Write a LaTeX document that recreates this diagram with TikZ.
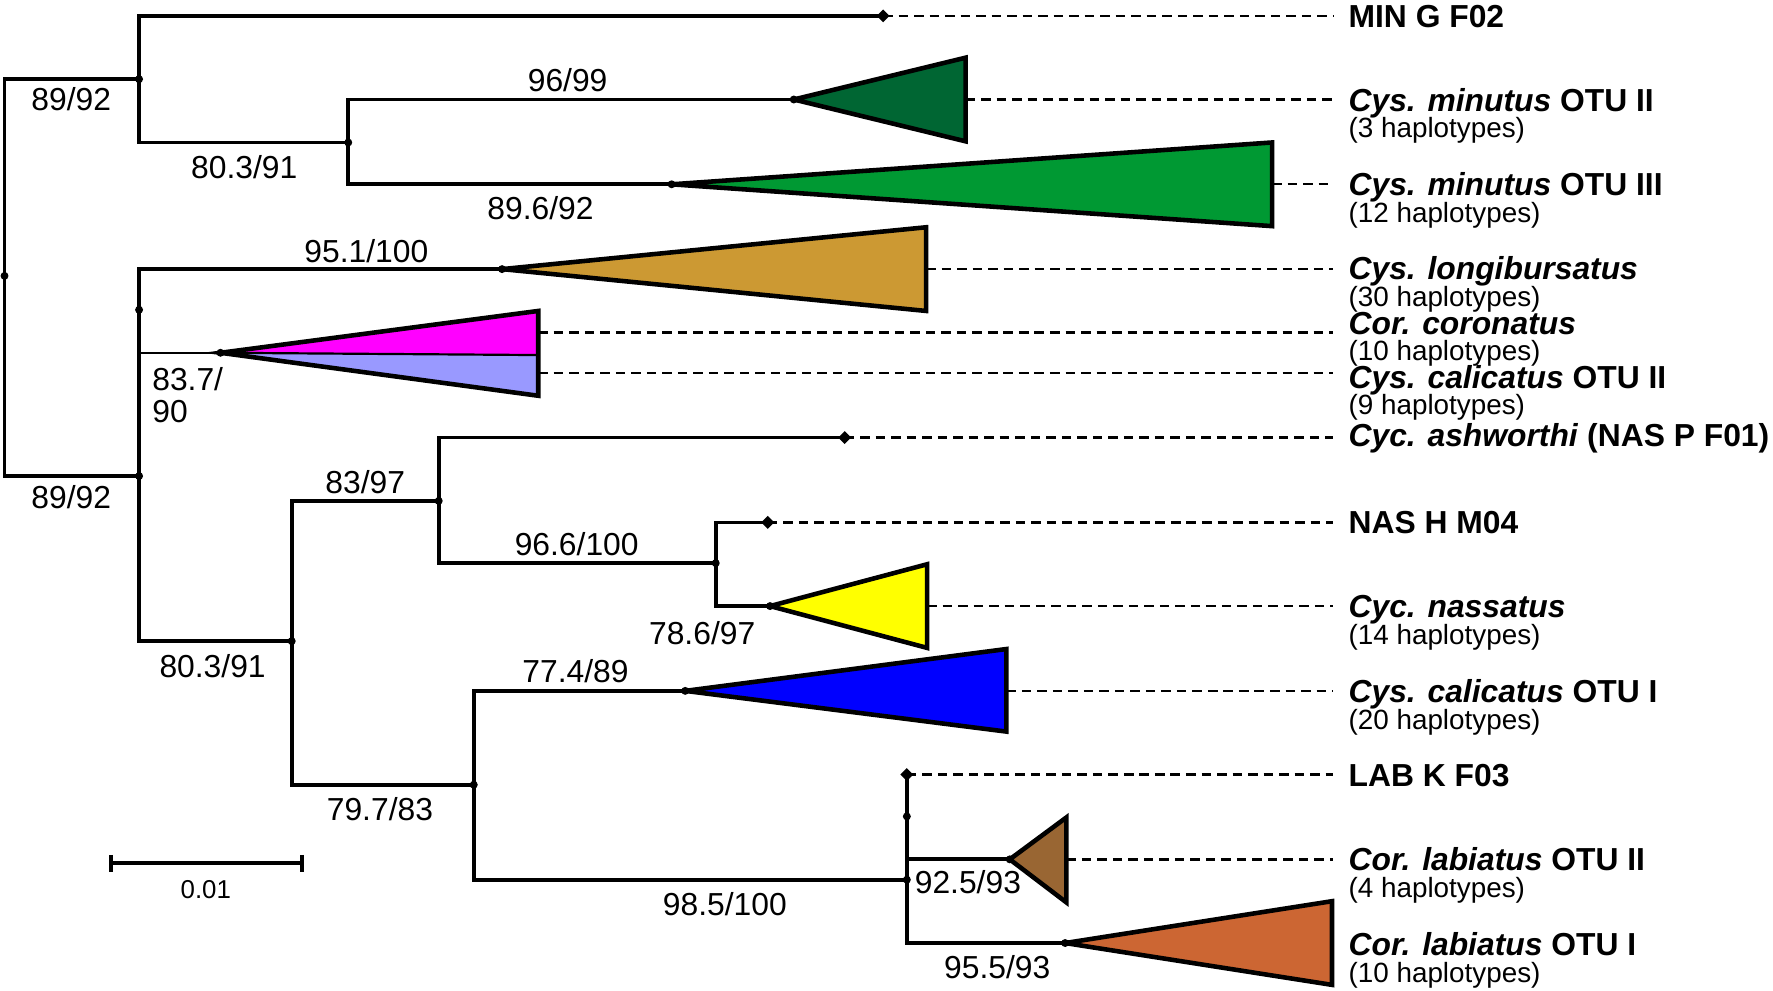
\documentclass[tikz,border=0pt]{standalone}
\usepackage{fontspec}
\setmainfont{Liberation Sans}
\usetikzlibrary{shapes.geometric}
\definecolor{cDkGreen}{HTML}{006633}
\definecolor{cGreen}{HTML}{009933}
\definecolor{cGold}{HTML}{CC9933}
\definecolor{cMagenta}{HTML}{FF00FF}
\definecolor{cLav}{HTML}{9999FF}
\definecolor{cYellow}{HTML}{FFFF00}
\definecolor{cBlue}{HTML}{0000FF}
\definecolor{cBrown}{HTML}{996633}
\definecolor{cOrange}{HTML}{CC6633}
\begin{document}
\begin{tikzpicture}[x=0.01cm,y=-0.01cm,
  br/.style={line width=0.95pt},
  thinbr/.style={line width=0.55pt},
  tri/.style={draw=black,line width=1.15pt,line join=miter},
  dsh/.style={line width=0.6pt,dash pattern=on 2.4pt off 1.5pt},
  sup/.style={font=\fontsize{8}{9}\selectfont,anchor=base,inner sep=0pt},
  tiplbl/.style={font=\fontsize{8}{9}\selectfont\bfseries,anchor=base west,inner sep=0pt},
  hap/.style={font=\fontsize{7}{8}\selectfont,anchor=base west,inner sep=0pt},
  tipmark/.style={diamond,fill=black,inner sep=0pt,minimum size=3.4pt},
  ndot/.style={circle,fill=black,inner sep=0pt,minimum size=2pt}]
\useasboundingbox (0,0) rectangle (1568,876);
% node coordinates
\coordinate (root) at (4,244);
\coordinate (nA) at (123,70);
\coordinate (tMIN) at (781,14);
\coordinate (nB) at (308,126);
\coordinate (aMinII) at (702,88);
\coordinate (aMinIII) at (594,163);
\coordinate (nC) at (123,421);
\coordinate (nCa) at (123,274);
\coordinate (aLongi) at (444,238);
\coordinate (aCor) at (195,312);
\coordinate (nD) at (258,567);
\coordinate (nE) at (388,443);
\coordinate (tAsh) at (747,387);
\coordinate (nF) at (633,498);
\coordinate (tNAS) at (679,462);
\coordinate (aNass) at (681,536);
\coordinate (nG) at (419,694);
\coordinate (aCalI) at (606,611);
\coordinate (nH) at (802,778);
\coordinate (nHa) at (802,722);
\coordinate (tLAB) at (802,685);
\coordinate (aLabII) at (893,760);
\coordinate (aLabI) at (942,834);
% branches
\draw[br] (root) |- (nA);
\draw[br] (root) |- (nC);
\draw[br] (nA) |- (tMIN);
\draw[br] (nA) |- (nB);
\draw[br] (nB) |- (aMinII);
\draw[br] (nB) |- (aMinIII);
\draw[br] (nC) |- (aLongi);
\draw[br] (nC) |- (nD);
\draw[thinbr] (nCa) |- (aCor);
\draw[br] (nD) |- (nE);
\draw[br] (nD) |- (nG);
\draw[br] (nE) |- (tAsh);
\draw[br] (nE) |- (nF);
\draw[br] (nF) |- (tNAS);
\draw[br] (nF) |- (aNass);
\draw[br] (nG) |- (aCalI);
\draw[br] (nG) |- (nH);
\draw[br] (nH) -- (nHa);
\draw[br] (nHa) -- (tLAB);
\draw[br] (nHa) |- (aLabII);
\draw[br] (nH) |- (aLabI);
% collapsed clades
\coordinate (rMinII) at (854,88);
\coordinate (rMinIII) at (1125,163);
\coordinate (rLongi) at (819,238);
\coordinate (rCor) at (476,294);
\coordinate (rCalII) at (476,330);
\coordinate (rNass) at (820,536);
\coordinate (rCalI) at (890,611);
\coordinate (rLabII) at (943,760);
\filldraw[tri,fill=cDkGreen] (aMinII) -- (854,51) -- (854,125) -- cycle;
\filldraw[tri,fill=cGreen] (aMinIII) -- (1125,126) -- (1125,200) -- cycle;
\filldraw[tri,fill=cGold] (aLongi) -- (819,201) -- (819,275) -- cycle;
\fill[cMagenta] (aCor) -- (476,275) -- (476,314) -- cycle;
\fill[cLav] (aCor) -- (476,314) -- (476,350) -- cycle;
\draw[line width=0.55pt] (aCor) -- (476,314);
\draw[tri] (aCor) -- (476,275) -- (476,350) -- cycle;
\filldraw[tri,fill=cYellow] (aNass) -- (820,499) -- (820,573) -- cycle;
\filldraw[tri,fill=cBlue] (aCalI) -- (890,574) -- (890,647) -- cycle;
\filldraw[tri,fill=cBrown] (aLabII) -- (943,723) -- (943,798) -- cycle;
\filldraw[tri,fill=cOrange] (aLabI) -- (1178,797) -- (1178,871) -- cycle;
% dashed leaders
\coordinate (eMIN) at (1179,14);
\coordinate (eMinII) at (1179,88);
\coordinate (eMinIII) at (1179,163);
\coordinate (eLongi) at (1179,238);
\coordinate (eCor) at (1179,294);
\coordinate (eCalII) at (1179,330);
\coordinate (eAsh) at (1179,387);
\coordinate (eNAS) at (1179,462);
\coordinate (eNass) at (1179,536);
\coordinate (eCalI) at (1179,611);
\coordinate (eLAB) at (1179,685);
\coordinate (eLabII) at (1179,760);
\draw[dsh] (tMIN) -- (eMIN);
\draw[dsh] (rMinII) -- (eMinII);
\draw[dsh] (rMinIII) -- (eMinIII);
\draw[dsh] (rLongi) -- (eLongi);
\draw[dsh] (rCor) -- (eCor);
\draw[dsh] (rCalII) -- (eCalII);
\draw[dsh] (tAsh) -- (eAsh);
\draw[dsh] (tNAS) -- (eNAS);
\draw[dsh] (rNass) -- (eNass);
\draw[dsh] (rCalI) -- (eCalI);
\draw[dsh] (tLAB) -- (eLAB);
\draw[dsh] (rLabII) -- (eLabII);
% node dots
\foreach \p in {root,nA,nB,nC,nCa,nD,nE,nF,nG,nH,nHa,aMinII,aMinIII,aLongi,aCor,aNass,aCalI,aLabII,aLabI}
  \node[ndot] at (\p) {};
\foreach \p in {tMIN,tAsh,tNAS,tLAB}
  \node[tipmark] at (\p) {};
% support values
\node[sup] (s1) at (63,98) {89/92};
\node[sup] (s2) at (216,158) {80.3/91};
\node[sup] (s3) at (502,81) {96/99};
\node[sup] (s4) at (478,194) {89.6/92};
\node[sup] (s5) at (324,232) {95.1/100};
\node[sup,anchor=base west] (s6) at (134,345) {83.7/};
\node[sup,anchor=base west] (s6b) at (134,374) {90};
\node[sup] (s7) at (63,450) {89/92};
\node[sup] (s8) at (188,599) {80.3/91};
\node[sup] (s9) at (323,436) {83/97};
\node[sup] (s10) at (510,491) {96.6/100};
\node[sup] (s11) at (621,570) {78.6/97};
\node[sup] (s12) at (509,604) {77.4/89};
\node[sup] (s13) at (336,726) {79.7/83};
\node[sup] (s14) at (641,810) {98.5/100};
\node[sup] (s15) at (856,790) {92.5/93};
\node[sup] (s16) at (882,865) {95.5/93};
% tip labels
\node[tiplbl] (l1) at (1192,24) {MIN G F02};
\node[tiplbl] (l2) at (1192,99) {\textit{Cys. minutus} OTU II};
\node[hap] (h2) at (1192,122) {(3 haplotypes)};
\node[tiplbl] (l3) at (1192,173) {\textit{Cys. minutus} OTU III};
\node[hap] (h3) at (1192,197) {(12 haplotypes)};
\node[tiplbl] (l4) at (1192,247) {\textit{Cys. longibursatus}};
\node[hap] (h4) at (1192,271) {(30 haplotypes)};
\node[tiplbl] (l5) at (1192,296) {\textit{Cor. coronatus}};
\node[hap] (h5) at (1192,319) {(10 haplotypes)};
\node[tiplbl] (l6) at (1192,344) {\textit{Cys. calicatus} OTU II};
\node[hap] (h6) at (1192,367) {(9 haplotypes)};
\node[tiplbl] (l7) at (1192,395) {\textit{Cyc. ashworthi} (NAS P F01)};
\node[tiplbl] (l8) at (1192,472) {NAS H M04};
\node[tiplbl] (l9) at (1192,546) {\textit{Cyc. nassatus}};
\node[hap] (h9) at (1192,570) {(14 haplotypes)};
\node[tiplbl] (l10) at (1192,621) {\textit{Cys. calicatus} OTU I};
\node[hap] (h10) at (1192,645) {(20 haplotypes)};
\node[tiplbl] (l11) at (1192,696) {LAB K F03};
\node[tiplbl] (l12) at (1192,770) {\textit{Cor. labiatus} OTU II};
\node[hap] (h12) at (1192,794) {(4 haplotypes)};
\node[tiplbl] (l13) at (1192,845) {\textit{Cor. labiatus} OTU I};
\node[hap] (h13) at (1192,869) {(10 haplotypes)};
% scale bar
\coordinate (sbL) at (98,763);
\coordinate (sbR) at (267,763);
\coordinate (sbLt) at (98,756);
\coordinate (sbLb) at (98,771);
\coordinate (sbRt) at (267,756);
\coordinate (sbRb) at (267,771);
\draw[br,line width=1.1pt] (sbL) -- (sbR);
\draw[br,line width=1.1pt] (sbLt) -- (sbLb);
\draw[br,line width=1.1pt] (sbRt) -- (sbRb);
\node[sup,font=\fontsize{6.5}{7}\selectfont] (sbl) at (182,795) {0.01};
\end{tikzpicture}
\end{document}
